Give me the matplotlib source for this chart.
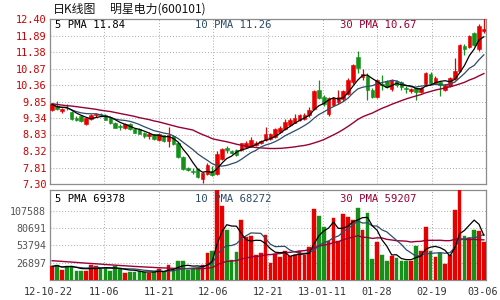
import numpy as np
import pandas as pd
import matplotlib
matplotlib.use("Agg")
import matplotlib.pyplot as plt
from matplotlib.transforms import ScaledTranslation

# ---- data ----
opens = [9.58, 9.72, 9.55, 9.66, 9.53, 9.35, 9.39, 9.17, 9.31, 9.42,
         9.47, 9.44, 9.35, 9.19, 9.09, 9.02, 9.16, 8.99, 9.01, 8.89,
         8.79, 8.84, 8.66, 8.80, 8.63, 8.78, 8.56, 8.14, 7.80, 7.71,
         7.76, 7.45, 7.62, 7.71, 7.62, 8.07, 8.40, 8.33, 8.35, 8.36,
         8.44, 8.48, 8.52, 8.56, 8.66, 8.70, 8.74, 8.90, 9.00, 9.12,
         9.20, 9.29, 9.31, 9.42, 9.62, 10.22, 10.00, 9.46, 9.74, 9.82,
         9.92, 10.08, 10.44, 11.24, 10.62, 10.63, 10.22, 10.00, 10.40, 10.47,
         10.23, 10.47, 10.44, 10.27, 10.17, 10.26, 10.14, 10.38, 10.71, 10.43,
         10.44, 10.21, 10.33, 10.54, 10.80, 11.57, 11.54, 11.96, 11.46, 12.03]
highs = [9.80, 9.88, 9.66, 9.78, 9.55, 9.40, 9.42, 9.35, 9.46, 9.50,
         9.50, 9.46, 9.37, 9.22, 9.16, 9.18, 9.18, 9.02, 9.03, 8.92,
         8.91, 8.86, 8.89, 8.83, 9.06, 8.82, 8.60, 8.18, 7.84, 7.81,
         7.79, 7.66, 7.96, 7.86, 8.33, 8.42, 8.48, 8.36, 8.38, 8.58,
         8.62, 8.76, 8.62, 8.66, 9.07, 8.88, 9.02, 9.08, 9.32, 9.33,
         9.47, 9.45, 9.48, 9.69, 10.22, 10.51, 10.05, 9.99, 9.99, 10.22,
         10.20, 10.58, 11.02, 11.40, 10.84, 10.73, 10.26, 10.56, 10.68, 10.50,
         10.56, 10.52, 10.47, 10.32, 10.28, 10.30, 10.30, 10.76, 10.75, 10.65,
         10.48, 10.40, 10.62, 11.19, 11.64, 11.62, 11.92, 12.00, 12.25, 12.50]
lows = [9.55, 9.58, 9.50, 9.60, 9.28, 9.24, 9.22, 9.12, 9.28, 9.38,
        9.40, 9.27, 9.14, 9.02, 8.96, 9.00, 8.97, 8.87, 8.84, 8.73,
        8.68, 8.66, 8.63, 8.60, 8.45, 8.50, 8.10, 7.72, 7.70, 7.61,
        7.49, 7.33, 7.58, 7.56, 7.58, 8.04, 8.27, 8.22, 8.17, 8.33,
        8.41, 8.45, 8.49, 8.53, 8.64, 8.66, 8.71, 8.87, 8.97, 9.09,
        9.18, 9.26, 9.28, 9.38, 9.58, 9.93, 9.72, 9.40, 9.70, 9.78,
        9.88, 10.04, 10.40, 10.73, 10.50, 9.91, 9.97, 9.96, 10.22, 10.27,
        10.18, 10.30, 10.22, 10.12, 10.12, 9.91, 10.10, 10.34, 10.40, 10.40,
        10.03, 10.17, 10.30, 10.50, 10.76, 11.29, 11.50, 11.57, 11.42, 11.98]
closes = [9.76, 9.62, 9.63, 9.64, 9.30, 9.28, 9.26, 9.33, 9.42, 9.47,
          9.44, 9.29, 9.20, 9.04, 9.06, 9.14, 8.99, 8.89, 8.86, 8.79,
          8.84, 8.68, 8.86, 8.64, 8.81, 8.53, 8.13, 7.76, 7.74, 7.67,
          7.51, 7.64, 7.88, 7.59, 8.22, 8.39, 8.36, 8.25, 8.21, 8.56,
          8.58, 8.65, 8.58, 8.62, 8.84, 8.84, 8.99, 9.04, 9.21, 9.29,
          9.35, 9.42, 9.44, 9.60, 10.17, 9.97, 9.77, 9.96, 9.95, 9.98,
          10.17, 10.53, 10.99, 10.89, 10.70, 10.22, 10.00, 10.53, 10.35, 10.30,
          10.53, 10.35, 10.30, 10.23, 10.24, 10.14, 10.27, 10.73, 10.43, 10.58,
          10.35, 10.37, 10.58, 10.78, 11.60, 11.48, 11.88, 11.61, 12.18, 12.10]
volumes = [21100, 23700, 15900, 22200, 22200, 14400, 14400, 14400, 23700, 22200,
           17100, 18600, 13400, 22200, 18600, 10800, 12300, 12300, 14400, 12300,
           10800, 12300, 17500, 12300, 23700, 15900, 28900, 29900, 15900, 17500,
           17500, 23700, 41900, 44500, 150000, 115800, 78000, 31500, 43400, 93600,
           66200, 67700, 38200, 41900, 69300, 26300, 40300, 35100, 44500, 36700,
           38200, 44500, 38200, 50600, 110700, 100300, 81700, 60900, 97200, 60900,
           102400, 98200, 93600, 112700, 78000, 104500, 33000, 58400, 38200, 28900,
           36700, 34100, 28900, 29900, 28900, 52200, 45500, 83200, 45500, 35100,
           41900, 25300, 38200, 109100, 145000, 68000, 66000, 78000, 76000, 59000]
# 30-day averages at the start of the window
ma30_head = [9.78, 9.76, 9.74, 9.72, 9.71, 9.69, 9.67, 9.65, 9.63, 9.61,
             9.58, 9.56, 9.54, 9.51, 9.48, 9.45, 9.42, 9.39, 9.35, 9.32,
             9.29, 9.25, 9.22, 9.18, 9.14, 9.10, 9.06, 9.03, 9.00]
vol_ma30_head = [30000, 29500, 29000, 28400, 27900, 27300, 26800, 26200, 25700, 25200,
                 24700, 24100, 23600, 23100, 22600, 22100, 21600, 21100, 20700, 20300,
                 19900, 19500, 19100, 18800, 18500, 18200, 17900, 17700, 17500]
x_labels = ['12-10-22', '11-06', '11-21', '12-06', '12-21', '13-01-11', '01-28', '02-19', '03-06']
price_ticks = [7.30, 7.81, 8.32, 8.83, 9.34, 9.85, 10.36, 10.87, 11.38, 11.89, 12.40]
vol_ticks = [26897, 53794, 80691, 107588]
price_legend = ['5 PMA 11.84', '10 PMA 11.26', '30 PMA 10.67']
vol_legend = ['5 PMA 69378', '10 PMA 68272', '30 PMA 59207']
title_left = '日K线图'
title_right = '明星电力(600101)'

# ---- derived series ----
o = np.array(opens); h = np.array(highs); l = np.array(lows); c = np.array(closes)
v = np.array(volumes, dtype=float)
n = len(c)
x = np.arange(n)
cs = pd.Series(c)
vs = pd.Series(v)
ma5 = cs.rolling(5, min_periods=1).mean()
ma10 = cs.rolling(10, min_periods=1).mean()
ma30 = cs.rolling(30).mean()
ma30[:len(ma30_head)] = ma30_head
vma5 = vs.rolling(5, min_periods=1).mean()
vma10 = vs.rolling(10, min_periods=1).mean()
vma30 = vs.rolling(30).mean()
vma30[:len(vol_ma30_head)] = vol_ma30_head

RED = '#e60000'
GREEN = '#15911a'
C5 = '#000000'
C10 = '#2d4c68'
C30 = '#990033'
GRID = '#aaaaaa'
SPINE = '#8c8c8c'
MONO = 'DejaVu Sans Mono'

W, H = 500, 300
fig = plt.figure(figsize=(W / 100, H / 100), dpi=100)
fig.patch.set_facecolor('white')
L0, R0 = 49.7, 486.3
ax = fig.add_axes([L0 / W, 1 - 184 / H, (R0 - L0) / W, 165 / H])
axv = fig.add_axes([L0 / W, 1 - 280 / H, (R0 - L0) / W, 90 / H])

xt = [-0.5 + (n / 8.0) * k for k in range(9)]

up = c >= o
cols = np.where(up, RED, GREEN)

# candles
ax.vlines(x, l, h, colors=cols, linewidth=0.9, zorder=3)
body_b = np.minimum(o, c)
body_h = np.maximum(np.abs(c - o), 0.015)
ax.bar(x, body_h, bottom=body_b, width=0.74, color=cols, edgecolor=cols, linewidth=0.4, zorder=4)
ax.plot(x, ma30, color=C30, lw=1.0, zorder=5)
ax.plot(x, ma10, color=C10, lw=0.9, zorder=5)
ax.plot(x, ma5, color=C5, lw=0.9, zorder=6)

ax.set_xlim(-0.5, n - 0.5)
ax.set_ylim(7.30, 12.40)
ax.set_yticks(price_ticks)
ax.set_yticklabels(['%.2f' % t for t in price_ticks], fontfamily=MONO, fontsize=7.4, color='#cc0000')
ax.set_xticks(xt)
ax.tick_params(axis='x', labelbottom=False, length=0)
ax.tick_params(axis='y', length=0, pad=2.2)
ax.grid(True, color=GRID, linestyle=(0, (1, 2)), linewidth=0.7, zorder=0)
for s in ax.spines.values():
    s.set_color(SPINE); s.set_linewidth(0.9)

# volume
axv.bar(x, v, width=0.76, color=cols, edgecolor=cols, linewidth=0.3, zorder=3)
axv.plot(x, vma30, color=C30, lw=1.0, zorder=5)
axv.plot(x, vma10, color=C10, lw=0.9, zorder=5)
axv.plot(x, vma5, color=C5, lw=0.9, zorder=6)
axv.set_xlim(-0.5, n - 0.5)
axv.set_ylim(0, 140000)
axv.set_yticks(vol_ticks)
axv.set_yticklabels([str(t) for t in vol_ticks], fontfamily=MONO, fontsize=7.2, color='#555555')
axv.set_xticks(xt)
axv.set_xticklabels(x_labels, fontfamily=MONO, fontsize=7.3, color='#333333')
axv.tick_params(axis='x', length=0, pad=5)
axv.tick_params(axis='y', length=0, pad=2.5)
axv.grid(True, color=GRID, linestyle=(0, (1, 2)), linewidth=0.7, zorder=0)
for s in axv.spines.values():
    s.set_color(SPINE); s.set_linewidth(0.9)
# keep the last date label inside the canvas, as in the reference
lbls = axv.get_xticklabels()
lbls[-1].set_transform(lbls[-1].get_transform() + ScaledTranslation(-3.5 / 100, 0, fig.dpi_scale_trans))
lbls[0].set_transform(lbls[0].get_transform() + ScaledTranslation(-1.5 / 100, 0, fig.dpi_scale_trans))

# legends
leg_x = [55, 195, 340]
leg_c = [C5, C10, C30]
for t, px, cc in zip(price_legend, leg_x, leg_c):
    fig.text(px / W, 1 - 25 / H, t, fontfamily=MONO, fontsize=7.6, color=cc, va='center', ha='left', zorder=10)
for t, px, cc in zip(vol_legend, leg_x, leg_c):
    fig.text(px / W, 1 - 198.5 / H, t, fontfamily=MONO, fontsize=7.6, color=cc, va='center', ha='left', zorder=10)

# title
fig.text(53 / W, 1 - 9 / H, title_left, family=['Noto Sans CJK SC', 'DejaVu Sans'], fontsize=8.6,
         color='#111111', va='center', ha='left')
fig.text(110 / W, 1 - 9 / H, title_right, family=['Noto Sans CJK SC', 'DejaVu Sans'], fontsize=8.6,
         color='#111111', va='center', ha='left')

fig.savefig('out.png', dpi=100, facecolor='white')
